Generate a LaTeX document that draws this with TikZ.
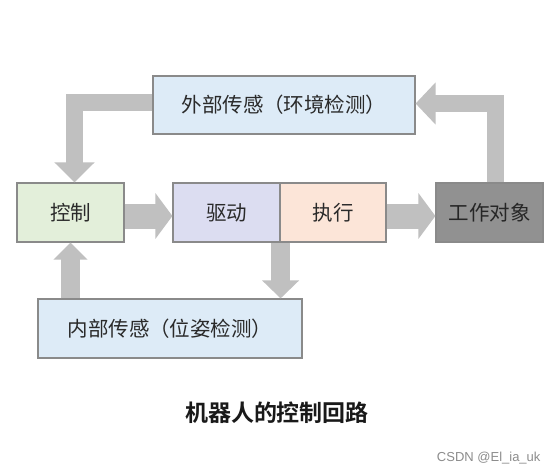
\documentclass[tikz,border=0pt]{standalone}
\usepackage{fontspec}
\setmainfont{Noto Sans CJK SC}
\newfontfamily\cjkbold{Noto Sans CJK SC}[BoldFont={* Bold}]
\newfontfamily\wmfont{Liberation Sans}
\usetikzlibrary{arrows.meta}
\definecolor{boxline}{HTML}{8A8A8A}
\definecolor{arrowgray}{HTML}{C0C0C0}
\definecolor{bluefill}{HTML}{DDEBF7}
\definecolor{greenfill}{HTML}{E3EFDA}
\definecolor{purplefill}{HTML}{DCDDF1}
\definecolor{peachfill}{HTML}{FCE5D8}
\definecolor{objfill}{HTML}{919191}
\definecolor{txt}{HTML}{2A2A2A}
\tikzset{
  blockbox/.style={draw=boxline, line width=1.2pt, inner sep=0pt, minimum height=59pt,
    font=\fontsize{20.5}{20.5}\selectfont, text=txt},
  bigarrow/.style n args={3}{draw=arrowgray, line width=#1, line join=miter,
    -{Triangle[width=#2, length=#3, fill=arrowgray]}},
}
\begin{document}
\begin{tikzpicture}[x=1pt, y=-1pt]
\useasboundingbox (0,0) rectangle (558,464);
\fill[white] (0,0) rectangle (558,464);

\node[blockbox, fill=bluefill, minimum width=262pt, minimum height=58pt] (outer) at (284,105) {外部传感（环境检测）};
\node[blockbox, fill=greenfill, minimum width=107pt] (ctrl) at (70.5,212.5) {控制};
\node[blockbox, fill=purplefill, minimum width=107pt] (drive) at (226.5,212.5) {驱动};
\node[blockbox, fill=peachfill, minimum width=106pt] (exec) at (333,212.5) {执行};
\node[blockbox, fill=objfill, minimum width=107pt, text=black!85] (obj) at (489.5,212.5) {工作对象};
\node[blockbox, fill=bluefill, minimum width=264pt] (inner) at (170,328.5) {内部传感（位姿检测）};

% connectors
\draw[bigarrow={17pt}{39pt}{20pt}] ([yshift=3pt]outer.west) -| ([xshift=4pt]ctrl.north);
\draw[bigarrow={25pt}{45pt}{17pt}] ([yshift=-3.5pt]ctrl.east) -- ([yshift=-3.5pt]drive.west);
\draw[bigarrow={25pt}{45pt}{17pt}] ([yshift=-3.5pt]exec.east) -- ([yshift=-3.5pt]obj.west);
\draw[bigarrow={17pt}{41pt}{20pt}] ([xshift=6pt]obj.north) |- ([yshift=1.5pt]outer.east);
\draw[bigarrow={19pt}{36pt}{18pt}] (drive.south east) -- (drive.south east |- inner.north);
\draw[bigarrow={19pt}{33pt}{17pt}] (inner.north -| ctrl.south) -- (ctrl.south);

\node[font=\cjkbold\bfseries\fontsize{23}{23}\selectfont, text=black!90] (title) at (277,413) {机器人的控制回路};
\node[font=\wmfont\fontsize{13}{13}\selectfont, text=black!45, anchor=east] (wm) at (544,458) {CSDN @El\_ia\_uk};
\end{tikzpicture}
\end{document}
